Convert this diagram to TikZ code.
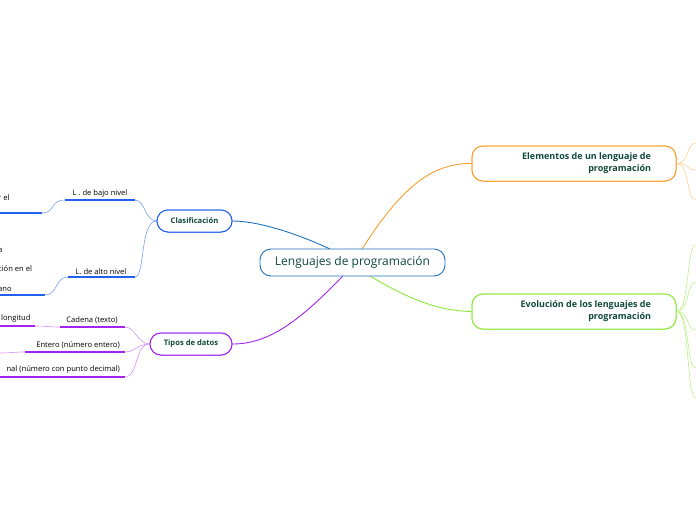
\documentclass[tikz,border=0pt]{standalone}
\usepackage{fontspec}
\setmainfont{Open Sans}
\definecolor{txt}{HTML}{0F4A3A}
\definecolor{cblue}{HTML}{1E73BE}
\definecolor{corange}{HTML}{F9A02A}
\definecolor{cgreen}{HTML}{8FE83C}
\definecolor{cclas}{HTML}{2160F0}
\definecolor{cpurp}{HTML}{A224F0}
\begin{document}
\begin{tikzpicture}[x=1pt,y=-1pt,
 main/.style={draw=#1,rounded corners=11pt,line width=0.9pt,fill=white,inner sep=0},
 sub/.style={draw=#1,rounded corners=11pt,line width=1pt,fill=white,inner sep=0},
 lbl/.style={font=\fontsize{7.6}{9}\selectfont,text=black,inner sep=1pt,anchor=south},
 con/.style={line width=0.9pt,#1}]
\useasboundingbox (0,0) rectangle (696,520);
\coordinate (cE) at (362,249); \coordinate (cV) at (370,276);
\coordinate (cC) at (330,249); \coordinate (cT) at (343,276);
\node[sub=corange,minimum width=204pt,minimum height=35pt] (elem) at (574,163.5) {};
\node[sub=cgreen,minimum width=204pt,minimum height=35pt] (evol) at (574,311.5) {};
\node[sub=cclas,minimum width=75pt,minimum height=22pt] (clas) at (194.5,221) {};
\node[sub=cpurp,minimum width=82pt,minimum height=22pt] (tipos) at (191,344) {};
\draw[con=corange] (cE) .. controls (400,190) and (430,163) .. (elem.west);
\draw[con=cgreen] (cV) .. controls (410,300) and (440,311) .. (evol.west);
\draw[con=cblue] (cC) .. controls (300,235) and (260,221) .. (clas.east);
\draw[con=cpurp] (cT) .. controls (300,320) and (270,344) .. (tipos.east);
\node[sub=corange,minimum width=204pt,minimum height=35pt,text=txt,font=\fontsize{9}{12}\selectfont\bfseries] at (574,163.5) {\hspace*{-16pt}\parbox{170pt}{\raggedleft Elementos de un lenguaje de\\ programación}};
\node[sub=cgreen,minimum width=204pt,minimum height=35pt,text=txt,font=\fontsize{9}{12}\selectfont\bfseries] at (574,311.5) {\hspace*{-16pt}\parbox{170pt}{\raggedleft Evolución de los lenguajes de\\ programación}};
\node[sub=cclas,minimum width=75pt,minimum height=22pt,text=txt,font=\fontsize{7.6}{9}\selectfont\bfseries] at (194.5,221) {Clasificación};
\node[sub=cpurp,minimum width=82pt,minimum height=22pt,text=txt,font=\fontsize{7.6}{9}\selectfont\bfseries] at (191,344) {Tipos de datos};
\node[main=cblue,minimum width=185pt,minimum height=27pt,text=txt,font=\fontsize{12}{14}\selectfont] (center) at (352.5,262.5) {Lenguajes de programación};
\foreach \y in {143,170,200} \draw[corange!50,line width=0.6pt] (elem.east) .. controls (690,163) and (686,\y) .. (696,\y);
\foreach \y in {245,282,330,368,398} \draw[cgreen!60,line width=0.6pt] (evol.east) .. controls (690,311) and (686,\y) .. (696,\y);
\coordinate (b1) at (135,200); \coordinate (b0) at (65,200);
\coordinate (a1) at (135,277); \coordinate (a0) at (68,277);
\draw[cclas!60,line width=0.6pt] (clas.west) .. controls (145,221) and (145,200) .. (b1);
\draw[cclas!60,line width=0.6pt] (clas.west) .. controls (140,221) and (145,277) .. (a1);
\draw[cclas,line width=1.3pt] (b0) -- (b1); \draw[cclas,line width=1.3pt] (a0) -- (a1);
\node[lbl] at (100,198.5) {L . de bajo nivel};
\node[lbl] at (101,275.5) {L. de alto nivel};
\coordinate (bl) at (42,213); \coordinate (al) at (45,295);
\draw[cclas!60,line width=0.6pt] (b0) .. controls (50,200) and (55,213) .. (bl);
\draw[cclas!60,line width=0.6pt] (a0) .. controls (55,277) and (58,295) .. (al);
\draw[cclas,line width=1.3pt] (0,213) -- (bl); \draw[cclas,line width=1.3pt] (0,295) -- (al);
\node[lbl,anchor=south west] at (-3,202) {r el};
\node[lbl,anchor=south west] at (-3,254) {a};
\node[lbl,anchor=south west] at (-3,273) {ción en el};
\node[lbl,anchor=south west] at (-3,293) {ano};
\coordinate (c1) at (125,327); \coordinate (c0) at (60,327);
\coordinate (e1) at (125,352); \coordinate (e0) at (25,352);
\coordinate (d1) at (125,377);
\draw[cpurp!50,line width=0.6pt] (tipos.west) .. controls (138,344) and (135,327) .. (c1);
\draw[cpurp!50,line width=0.6pt] (tipos.west) .. controls (138,344) and (135,352) .. (e1);
\draw[cpurp!50,line width=0.6pt] (tipos.west) .. controls (135,344) and (138,377) .. (d1);
\draw[cpurp,line width=1.3pt] (c0) -- (c1); \draw[cpurp,line width=1.3pt] (e0) -- (e1); \draw[cpurp,line width=1.3pt] (0,377) -- (d1);
\node[lbl] at (92,324.5) {Cadena (texto)};
\node[lbl,anchor=south east] at (121,349.5) {Entero (número entero)};
\node[lbl,anchor=south east] at (121,374.5) {nal (número con punto decimal)};
\draw[cpurp!50,line width=0.6pt] (c0) .. controls (50,327) and (45,326) .. (35,326);
\draw[cpurp,line width=1.3pt] (0,326) -- (35,326);
\node[lbl,anchor=south west] at (0,323.5) {longitud};
\draw[cpurp!50,line width=0.6pt] (e0) .. controls (15,352) and (10,353) .. (0,353);
\end{tikzpicture}
\end{document}
